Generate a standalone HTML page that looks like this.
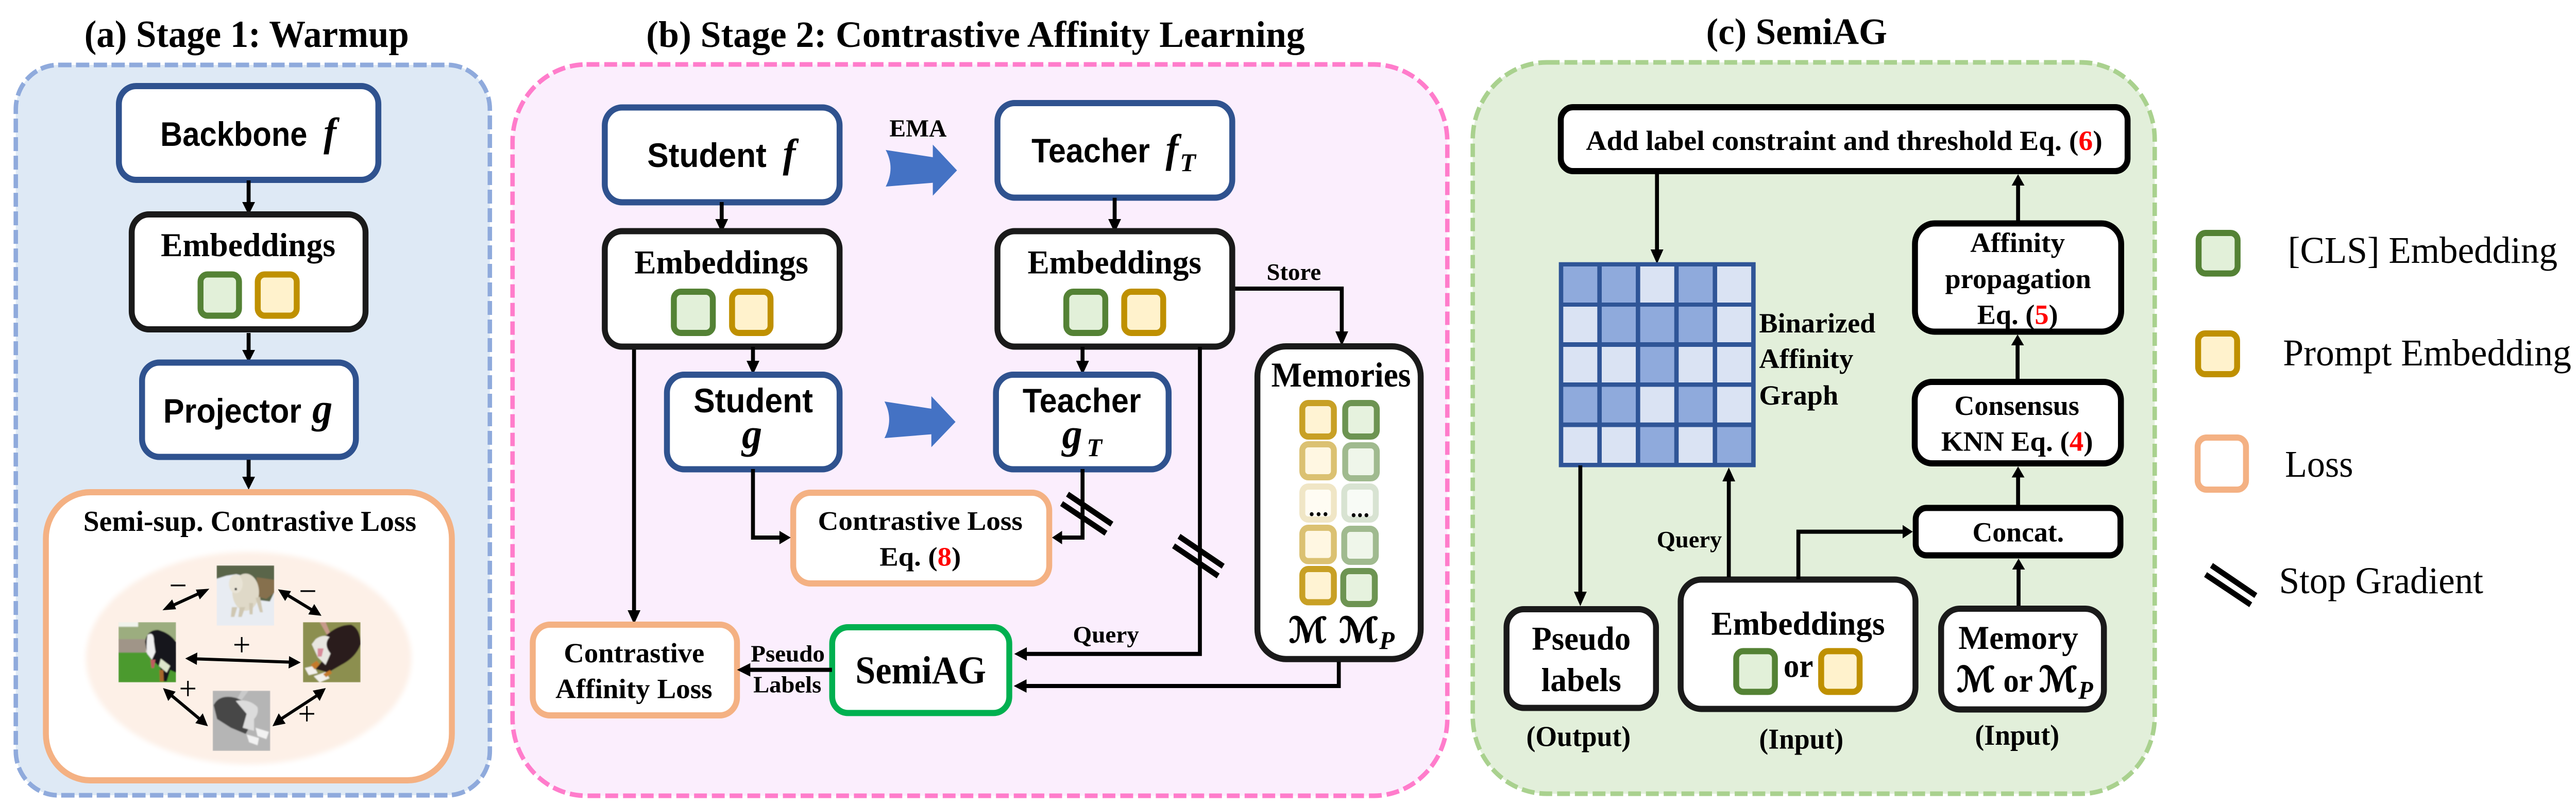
<!DOCTYPE html>
<html><head><meta charset="utf-8"><title>Diagram</title>
<style>
html,body{margin:0;padding:0;background:#fff;width:100vw;height:100vh;overflow:hidden}
svg{display:block;width:100vw;height:100vh}
text{fill:#000;white-space:pre}
.b{font-family:"Liberation Serif",serif;font-weight:700}
.r{font-family:"Liberation Serif",serif;font-weight:400}
.s{font-family:"Liberation Sans",sans-serif;font-weight:700}
.i{font-family:"Liberation Serif",serif;font-weight:700;font-style:italic}
.m{font-family:"DejaVu Serif","DejaVu Sans",serif;font-weight:700;font-style:italic;stroke:#000;stroke-width:1.5}
text.red,tspan.red{fill:#f00}
.blue{fill:#fff;stroke:#2F528F;stroke-width:12}
.blk{fill:#fff;stroke:#1a1a1a;stroke-width:12}
.blk2{fill:#fff;stroke:#000;stroke-width:12}
.loss{fill:#fff;stroke:#F4B183;stroke-width:12}
.gr{fill:#E2F0D9;stroke:#548235;stroke-width:12}
.go{fill:#FFF2CC;stroke:#BF9000;stroke-width:12}
.w{fill:none;stroke:#000;stroke-width:8}
.sg{stroke:#000;stroke-width:11;fill:none}
.d{fill:#8FAADC}.l{fill:#DAE3F3}
</style></head><body>
<svg xmlns="http://www.w3.org/2000/svg" viewBox="0 0 5222 1558" preserveAspectRatio="none">
<defs>
<filter id="soft" x="-10%" y="-10%" width="120%" height="120%"><feGaussianBlur stdDeviation="5"/></filter>
<filter id="pic" x="0" y="0" width="100%" height="100%"><feGaussianBlur stdDeviation="1"/></filter>
<clipPath id="c1"><rect x="439" y="1097" width="117" height="117"/></clipPath>
<clipPath id="c2"><rect x="240" y="1207" width="117" height="117"/></clipPath>
<clipPath id="c3"><rect x="614" y="1207" width="117" height="117"/></clipPath>
<clipPath id="c4"><rect x="431" y="1340" width="117" height="117"/></clipPath>
</defs>

<!-- PANEL A -->
<text class="b" x="171" y="91" font-size="74" textLength="658" lengthAdjust="spacingAndGlyphs">(a) Stage 1: Warmup</text>
<rect x="32" y="126" width="961" height="1417" rx="86" fill="#DEE9F5" stroke="#8FAADC" stroke-width="9" stroke-dasharray="27 9"/>

<rect class="blue" x="241" y="167" width="526" height="182" rx="35"/>
<text class="s" x="325" y="283" font-size="66" textLength="298" lengthAdjust="spacingAndGlyphs">Backbone</text>
<text class="i" x="656" y="283" font-size="78">f</text>
<path class="w" d="M504 350V395"/><polygon points="491,392 517,392 504,417"/>

<rect class="blk" x="267" y="416" width="474" height="223" rx="35" stroke-width="13"/>
<text class="b" x="326" y="497" font-size="65" textLength="354" lengthAdjust="spacingAndGlyphs">Embeddings</text>
<rect class="gr" x="406.5" y="532.5" width="78" height="80" rx="14"/>
<rect class="go" x="522.5" y="532.5" width="79" height="80" rx="14"/>
<path class="w" d="M504 646V682"/><polygon points="491,679 517,679 504,703.5"/>

<rect class="blue" x="288" y="703.5" width="433.5" height="183" rx="35"/>
<text class="s" x="331" y="820" font-size="66" textLength="280" lengthAdjust="spacingAndGlyphs">Projector</text>
<text class="i" x="633" y="820" font-size="82">g</text>
<path class="w" d="M504 892V928"/><polygon points="491,925 517,925 504,950"/>

<rect class="loss" x="93" y="955" width="823" height="559" rx="90" stroke-width="13"/>
<text class="b" x="169" y="1030" font-size="56" textLength="675" lengthAdjust="spacingAndGlyphs">Semi-sup. Contrastive Loss</text>
<ellipse cx="504" cy="1277" rx="330" ry="206" fill="#FDF0E7" filter="url(#soft)"/>

<!-- wolf -->
<g clip-path="url(#c1)"><g filter="url(#pic)">
<rect x="439" y="1097" width="117" height="117" fill="#e8ecf2"/>
<path d="M439 1097H556V1149L547 1167L522 1164L508 1121L479 1114L459 1117L439 1123Z" fill="#5a6548"/>
<path d="M520 1120L556 1125V1150L540 1162L524 1158Z" fill="#86704e"/>
<ellipse cx="498" cy="1149" rx="27" ry="36" fill="#dfd9c8"/>
<ellipse cx="478" cy="1133" rx="14" ry="18" fill="#e8e3d5"/>
<path d="M470 1178l-2 19h7l6-19zM486 1178l-3 19h7l7-19zM505 1170l1 22h6l1-22zM518 1160l9 28h6l-6-30z" fill="#cfc7b2"/>
<circle cx="478" cy="1143" r="2.5" fill="#222"/>
</g></g>
<!-- left dog -->
<g clip-path="url(#c2)"><g filter="url(#pic)">
<rect x="240" y="1207" width="117" height="36" fill="#9cad7f"/>
<rect x="240" y="1207" width="40" height="9" fill="#f0f3ec"/>
<rect x="240" y="1240" width="56" height="27" fill="#a09588"/>
<rect x="240" y="1266" width="117" height="58" fill="#4c9a2e"/>
<path d="M294 1245Q298 1222 320 1222Q345 1228 357 1246V1305L345 1300L338 1322H330L325 1295L308 1280L298 1268Z" fill="#15131a"/>
<path d="M299 1232Q312 1224 312 1245L315 1265L308 1280L298 1268Q296 1250 299 1232Z" fill="#eeeeee"/>
<path d="M326 1278L345 1292L338 1305L322 1292Z" fill="#dde6cb"/>
<path d="M305 1280h10l-3 16h-5z" fill="#bf5a60"/>
<path d="M323 1300h8l1 22h-8z" fill="#a8662c"/>
</g></g>
<!-- right dog -->
<g clip-path="url(#c3)"><g filter="url(#pic)">
<rect x="614" y="1207" width="117" height="117" fill="#8c8f50"/>
<path d="M648 1207h12l13 30h-7z" fill="#c79a8a"/>
<path d="M654 1240Q680 1212 712 1212Q731 1220 731 1250Q722 1275 692 1290L665 1305L640 1298L660 1275Z" fill="#2b1a1c"/>
<path d="M640 1240Q655 1230 668 1236Q655 1250 670 1268L660 1290L644 1275L632 1250Z" fill="#e8e6e0"/>
<path d="M618 1296L636 1292L644 1306L626 1310ZM636 1312L660 1304L668 1316L648 1324Z" fill="#f2f0ea"/>
<path d="M644 1258h12l-4 16h-8z" fill="#d88a9a"/>
<path d="M630 1290l12 -8 6 7 -10 10zM655 1308l14 -8 4 6 -12 8z" fill="#c47a2a"/>
</g></g>
<!-- gray dog -->
<g clip-path="url(#c4)"><g filter="url(#pic)">
<rect x="431" y="1340" width="117" height="117" fill="#b5b5b5"/>
<path d="M490 1340h14l-22 28h-8z" fill="#cacaca"/>
<path d="M433 1368Q445 1346 478 1354Q505 1362 510 1385Q508 1410 498 1424L468 1412L440 1395Z" fill="#474747"/>
<path d="M478 1360Q505 1355 522 1372Q525 1385 515 1395L515 1418L492 1412L500 1385Z" fill="#dcdcdc"/>
<path d="M518 1412L545 1420L540 1434L522 1428ZM500 1425L525 1432L522 1446L505 1440Z" fill="#f2f2f2"/>
</g></g>

<!-- Contrast arrows -->
<g fill="#000" stroke="none">
<line x1="345" y1="1177" x2="409" y2="1149" stroke="#000" stroke-width="6"/>
<polygon points="329.4,1184 349,1163 357,1182"/><polygon points="424.4,1142.3 405,1163 397,1144"/>
<line x1="580" y1="1153" x2="635" y2="1185" stroke="#000" stroke-width="6"/>
<polygon points="563.5,1143.4 590,1147 578,1166"/><polygon points="651.7,1194.7 625,1192 637,1172"/>
<line x1="395" y1="1278.3" x2="590" y2="1284.7" stroke="#000" stroke-width="6"/>
<polygon points="375.5,1277.6 400,1266 399,1290"/><polygon points="609.6,1285.4 585,1297 586,1273"/>
<line x1="346" y1="1348" x2="406" y2="1396" stroke="#000" stroke-width="6"/>
<polygon points="330.4,1335 356,1342 341,1360"/><polygon points="421.5,1409 396,1403 411,1384"/>
<line x1="645" y1="1348" x2="568" y2="1396" stroke="#000" stroke-width="6"/>
<polygon points="660.5,1335 634,1340 648,1360"/><polygon points="552.4,1409 579,1404 565,1384"/>
</g>
<text class="r" x="343" y="1157" font-size="64">−</text>
<text class="r" x="606" y="1168" font-size="64">−</text>
<text class="r" x="472" y="1272" font-size="64">+</text>
<text class="r" x="363" y="1357" font-size="64">+</text>
<text class="r" x="604" y="1406" font-size="64">+</text>

<!-- PANEL B -->
<text class="b" x="1310" y="91" font-size="72" textLength="1335" lengthAdjust="spacingAndGlyphs">(b) Stage 2: Contrastive Affinity Learning</text>
<rect x="1039" y="125" width="1895" height="1419" rx="150" fill="#FBEEFD" stroke="#FF7CCB" stroke-width="9" stroke-dasharray="26 10"/>

<rect class="blue" x="1226" y="208.5" width="476" height="184" rx="35"/>
<text class="s" x="1312" y="324" font-size="66" textLength="242" lengthAdjust="spacingAndGlyphs">Student</text>
<text class="i" x="1587" y="324" font-size="78">f</text>
<path class="w" d="M1463 392V428"/><polygon points="1450,425 1476,425 1463,451.5"/>

<text class="b" x="1803" y="265" font-size="48" textLength="116" lengthAdjust="spacingAndGlyphs">EMA</text>
<path fill="#4472C4" d="M1795.5 291L1891 305V280.6L1940 330.6L1891 379.6V354.6L1795.5 362Q1815 326 1795.5 291Z"/>
<path fill="#4472C4" d="M1793 779L1888 793V768.6L1937 818.6L1888 867.6V842.6L1793 850Q1812 814 1793 779Z"/>

<rect class="blue" x="2022" y="200" width="476" height="183.5" rx="35"/>
<text class="s" x="2091" y="315" font-size="66" textLength="240" lengthAdjust="spacingAndGlyphs">Teacher</text>
<text class="i" x="2363" y="315" font-size="78">f</text>
<text class="i" x="2392" y="332" font-size="50" textLength="32" lengthAdjust="spacingAndGlyphs">T</text>
<path class="w" d="M2259.6 383.7V428"/><polygon points="2246.6,425 2272.6,425 2259.6,451.5"/>

<rect class="blk" x="1226" y="448.5" width="476" height="224" rx="35" stroke-width="13"/>
<text class="b" x="1286" y="530.6" font-size="65" textLength="352.6" lengthAdjust="spacingAndGlyphs">Embeddings</text>
<rect class="gr" x="1366" y="566" width="79" height="80" rx="14"/>
<rect class="go" x="1484" y="566" width="78" height="80" rx="14"/>

<rect class="blk" x="2022" y="448.5" width="476" height="224" rx="35" stroke-width="13"/>
<text class="b" x="2083" y="530.6" font-size="65" textLength="352.6" lengthAdjust="spacingAndGlyphs">Embeddings</text>
<rect class="gr" x="2161.6" y="566" width="79" height="80" rx="14"/>
<rect class="go" x="2279" y="566" width="79" height="80" rx="14"/>

<path class="w" d="M1526.4 673V703"/><polygon points="1513.4,700 1539.4,700 1526.4,727"/>
<path class="w" d="M2194.5 673V703"/><polygon points="2181.5,700 2207.5,700 2194.5,727"/>

<rect class="blue" x="1352" y="727" width="350" height="183.5" rx="35"/>
<text class="s" x="1406" y="800" font-size="66" textLength="242" lengthAdjust="spacingAndGlyphs">Student</text>
<text class="i" x="1504" y="869" font-size="82">g</text>

<rect class="blue" x="2019" y="727" width="350" height="183.5" rx="35"/>
<text class="s" x="2073" y="800" font-size="66" textLength="240" lengthAdjust="spacingAndGlyphs">Teacher</text>
<text class="i" x="2153" y="869" font-size="82">g</text>
<text class="i" x="2203" y="885" font-size="50" textLength="31" lengthAdjust="spacingAndGlyphs">T</text>

<path class="w" d="M2504 560H2720V645"/><polygon points="2707,643 2733,643 2720,671"/>
<text class="b" x="2567.6" y="543" font-size="46" textLength="110.4" lengthAdjust="spacingAndGlyphs">Store</text>

<rect class="blk" x="2549" y="672" width="331" height="606.7" rx="58"/>
<text class="b" x="2577" y="750" font-size="68" textLength="283" lengthAdjust="spacingAndGlyphs">Memories</text>
<!-- memory cells -->
<g stroke-width="10">
<g opacity=".85">
<rect class="go" x="2640" y="782" width="64" height="65" rx="12"/>
<rect class="gr" x="2727" y="782" width="64" height="65" rx="12"/>
</g>
<g opacity=".55">
<rect class="go" x="2640" y="862" width="64" height="64" rx="12"/>
<rect class="gr" x="2727" y="864" width="64" height="64" rx="12"/>
</g>
<g opacity=".22">
<rect class="go" x="2640" y="944" width="64" height="64" rx="12"/>
<rect class="gr" x="2725" y="944" width="64" height="64" rx="12"/>
</g>
<g opacity=".55">
<rect class="go" x="2640" y="1024" width="64" height="64.6" rx="12"/>
<rect class="gr" x="2725" y="1026" width="64" height="64" rx="12"/>
</g>
<g opacity=".85">
<rect class="go" x="2640" y="1104" width="64" height="64.5" rx="12"/>
<rect class="gr" x="2723" y="1108" width="64" height="64" rx="12"/>
</g>
</g>
<text class="b" x="2653" y="1001" font-size="48" textLength="40" lengthAdjust="spacing">...</text>
<text class="b" x="2738" y="1003" font-size="48" textLength="38" lengthAdjust="spacing">...</text>
<text class="m" x="2612" y="1246.5" font-size="68" textLength="78" lengthAdjust="spacingAndGlyphs">ℳ</text>
<text class="m" x="2714" y="1246.5" font-size="68" textLength="80" lengthAdjust="spacingAndGlyphs">ℳ</text>
<text class="i" x="2796" y="1259" font-size="50" textLength="31" lengthAdjust="spacingAndGlyphs">P</text>

<rect class="loss" x="1608" y="956" width="519" height="176" rx="35"/>
<text class="b" x="1658" y="1028" font-size="52" textLength="415" lengthAdjust="spacingAndGlyphs">Contrastive Loss</text>
<text class="b" x="1783" y="1097.6" font-size="52" textLength="165" lengthAdjust="spacingAndGlyphs">Eq. (<tspan class="red">8</tspan>)</text>

<path class="w" d="M1526.4 910V1043H1582"/><polygon points="1580,1030 1580,1056 1603,1043"/>
<path class="w" d="M2194.5 910V1043H2152"/><polygon points="2153,1030 2153,1056 2132.6,1043"/>
<path class="sg" d="M2164 958.7L2254 1017M2152 977L2242 1034.6"/>

<path class="w" d="M1285.3 678V1186"/><polygon points="1272.3,1184 1298.3,1184 1285.3,1211"/>

<path class="w" d="M2432.4 673V1268.8H2080"/><polygon points="2081.6,1255.8 2081.6,1281.8 2056,1268.8"/>
<path class="sg" d="M2390 1040.5L2479.6 1098.6M2379 1059L2469.4 1117.5"/>
<path class="w" d="M2714 1284V1331H2080"/><polygon points="2081,1318 2081,1344 2055,1331"/>
<text class="b" x="2175" y="1246.5" font-size="46" textLength="134" lengthAdjust="spacingAndGlyphs">Query</text>

<rect class="blk" x="1687" y="1217" width="359" height="166.4" rx="32" style="stroke:#00B050"/>
<text class="b" x="1734" y="1326" font-size="76" textLength="265" lengthAdjust="spacingAndGlyphs">SemiAG</text>

<rect class="loss" x="1080" y="1212" width="414" height="176" rx="35"/>
<text class="b" x="1143" y="1285" font-size="54" textLength="285" lengthAdjust="spacingAndGlyphs">Contrastive</text>
<text class="b" x="1126" y="1354.7" font-size="54" textLength="318" lengthAdjust="spacingAndGlyphs">Affinity Loss</text>
<path class="w" d="M1686.5 1299.6H1518"/><polygon points="1521,1286.6 1521,1312.6 1494,1299.6"/>
<text class="b" x="1522" y="1283.7" font-size="46" textLength="150" lengthAdjust="spacingAndGlyphs">Pseudo</text>
<text class="b" x="1527" y="1343.3" font-size="46" textLength="138" lengthAdjust="spacingAndGlyphs">Labels</text>

<!-- PANEL C -->
<text class="b" x="3458.7" y="85.7" font-size="72" textLength="367" lengthAdjust="spacingAndGlyphs">(c) SemiAG</text>
<rect x="2985.5" y="121" width="1382.5" height="1419" rx="150" fill="#E2EFDA" stroke="#A9D18E" stroke-width="9" stroke-dasharray="26 10"/>

<rect class="blk2" x="3164" y="208" width="1149" height="124" rx="25"/>
<text class="b" x="3215" y="291" font-size="54" textLength="1047" lengthAdjust="spacingAndGlyphs">Add label constraint and threshold Eq. (<tspan class="red">6</tspan>)</text>
<path class="w" d="M3359 332V486"/><polygon points="3346,484 3372,484 3359,512"/>

<rect x="3160" y="508.7" width="399" height="397.8" fill="#2F5597"/>
<g>
<rect class="d" x="3169" y="517" width="69" height="70"/><rect class="d" x="3247" y="517" width="69" height="70"/><rect class="l" x="3325" y="517" width="69" height="70"/><rect class="d" x="3403" y="517" width="69" height="70"/><rect class="l" x="3481" y="517" width="69" height="70"/>
<rect class="l" x="3169" y="595" width="69" height="69"/><rect class="d" x="3247" y="595" width="69" height="69"/><rect class="d" x="3325" y="595" width="69" height="69"/><rect class="d" x="3403" y="595" width="69" height="69"/><rect class="l" x="3481" y="595" width="69" height="69"/>
<rect class="l" x="3169" y="673" width="69" height="69"/><rect class="l" x="3247" y="673" width="69" height="69"/><rect class="d" x="3325" y="673" width="69" height="69"/><rect class="l" x="3403" y="673" width="69" height="69"/><rect class="l" x="3481" y="673" width="69" height="69"/>
<rect class="d" x="3169" y="750.5" width="69" height="69.2"/><rect class="d" x="3247" y="750.5" width="69" height="69.2"/><rect class="l" x="3325" y="750.5" width="69" height="69.2"/><rect class="d" x="3403" y="750.5" width="69" height="69.2"/><rect class="l" x="3481" y="750.5" width="69" height="69.2"/>
<rect class="l" x="3169" y="828.6" width="69" height="69.4"/><rect class="l" x="3247" y="828.6" width="69" height="69.4"/><rect class="d" x="3325" y="828.6" width="69" height="69.4"/><rect class="l" x="3403" y="828.6" width="69" height="69.4"/><rect class="d" x="3481" y="828.6" width="69" height="69.4"/>
</g>
<text class="b" x="3566" y="645" font-size="54" textLength="236" lengthAdjust="spacingAndGlyphs">Binarized</text>
<text class="b" x="3566" y="714" font-size="54" textLength="191" lengthAdjust="spacingAndGlyphs">Affinity</text>
<text class="b" x="3566" y="785" font-size="54" textLength="160.6" lengthAdjust="spacingAndGlyphs">Graph</text>

<rect class="blk2" x="3882" y="433.5" width="418" height="210" rx="40"/>
<text class="b" x="3994" y="489" font-size="54" textLength="192" lengthAdjust="spacingAndGlyphs">Affinity</text>
<text class="b" x="3943" y="559" font-size="54" textLength="296" lengthAdjust="spacingAndGlyphs">propagation</text>
<text class="b" x="4008" y="628.6" font-size="54" textLength="164" lengthAdjust="spacingAndGlyphs">Eq. (<tspan class="red">5</tspan>)</text>
<path class="w" d="M4091 430V358"/><polygon points="4078,360 4104,360 4091,338"/>
<path class="w" d="M4090 738V668"/><polygon points="4077,670 4103,670 4090,649"/>

<rect class="blk2" x="3881.5" y="741" width="418" height="158" rx="35"/>
<text class="b" x="3962" y="804.8" font-size="54" textLength="253" lengthAdjust="spacingAndGlyphs">Consensus</text>
<text class="b" x="3935" y="874.3" font-size="54" textLength="308" lengthAdjust="spacingAndGlyphs">KNN Eq. (<tspan class="red">4</tspan>)</text>
<path class="w" d="M4091 982V924"/><polygon points="4078,926.4 4104,926.4 4091,905"/>

<rect class="blk2" x="3883.5" y="985.5" width="415" height="92" rx="22"/>
<text class="b" x="3998.5" y="1050.5" font-size="54" textLength="185.5" lengthAdjust="spacingAndGlyphs">Concat.</text>
<path class="w" d="M4092 1184V1103"/><polygon points="4079,1105 4105,1105 4092,1083.7"/>

<rect class="blk" x="3935" y="1181" width="330" height="195.5" rx="38"/>
<text class="b" x="3970" y="1259" font-size="65" textLength="243" lengthAdjust="spacingAndGlyphs">Memory</text>
<text class="m" x="3966" y="1341.8" font-size="68" textLength="78" lengthAdjust="spacingAndGlyphs">ℳ</text>
<text class="b" x="4061" y="1341.8" font-size="65" textLength="60" lengthAdjust="spacingAndGlyphs">or</text>
<text class="m" x="4133" y="1341.8" font-size="68" textLength="78" lengthAdjust="spacingAndGlyphs">ℳ</text>
<text class="i" x="4213" y="1355.7" font-size="50" textLength="30" lengthAdjust="spacingAndGlyphs">P</text>
<text class="b" x="4003.6" y="1445" font-size="56" textLength="171" lengthAdjust="spacingAndGlyphs">(Input)</text>

<rect class="blk" x="3407" y="1124.5" width="476" height="251" rx="42"/>
<text class="b" x="3469" y="1231.6" font-size="65" textLength="352" lengthAdjust="spacingAndGlyphs">Embeddings</text>
<rect class="gr" x="3519.6" y="1263.4" width="78.4" height="79" rx="14"/>
<rect class="go" x="3691.8" y="1263.4" width="78" height="79" rx="14"/>
<text class="b" x="3615.6" y="1313.5" font-size="65" textLength="60" lengthAdjust="spacingAndGlyphs">or</text>
<text class="b" x="3566" y="1452.5" font-size="56" textLength="171" lengthAdjust="spacingAndGlyphs">(Input)</text>

<rect class="blk" x="3054" y="1182" width="303" height="191.5" rx="35"/>
<text class="b" x="3105.4" y="1260.4" font-size="65" textLength="200.3" lengthAdjust="spacingAndGlyphs">Pseudo</text>
<text class="b" x="3124.5" y="1340.8" font-size="65" textLength="162" lengthAdjust="spacingAndGlyphs">labels</text>
<text class="b" x="3094" y="1447.5" font-size="56" textLength="211.7" lengthAdjust="spacingAndGlyphs">(Output)</text>

<path class="w" d="M3203.6 903V1150"/><polygon points="3190.6,1148 3216.6,1148 3203.6,1176"/>
<path class="w" d="M3504.6 1120V932"/><polygon points="3491.6,934 3517.6,934 3504.6,907"/>
<text class="b" x="3358.6" y="1062" font-size="46" textLength="132" lengthAdjust="spacingAndGlyphs">Query</text>
<path class="w" d="M3645.6 1124V1031.6H3860"/><polygon points="3857,1018.6 3857,1044.6 3877.5,1031.6"/>

<!-- LEGEND -->
<rect class="gr" x="4457" y="452" width="79" height="78.6" rx="14"/>
<rect class="go" x="4456" y="647" width="79" height="79" rx="14"/>
<rect class="loss" x="4455" y="849" width="98" height="101" rx="18"/>
<path class="sg" d="M4483 1097L4573 1155.5M4471 1114.7L4562.6 1173.4"/>
<text class="r" x="4638" y="510" font-size="73" textLength="546.5" lengthAdjust="spacingAndGlyphs">[CLS] Embedding</text>
<text class="r" x="4628" y="709" font-size="73" textLength="584.4" lengthAdjust="spacingAndGlyphs">Prompt Embedding</text>
<text class="r" x="4632" y="925" font-size="73" textLength="138.4" lengthAdjust="spacingAndGlyphs">Loss</text>
<text class="r" x="4620" y="1151" font-size="73" textLength="414" lengthAdjust="spacingAndGlyphs">Stop Gradient</text>
</svg>
</body></html>
